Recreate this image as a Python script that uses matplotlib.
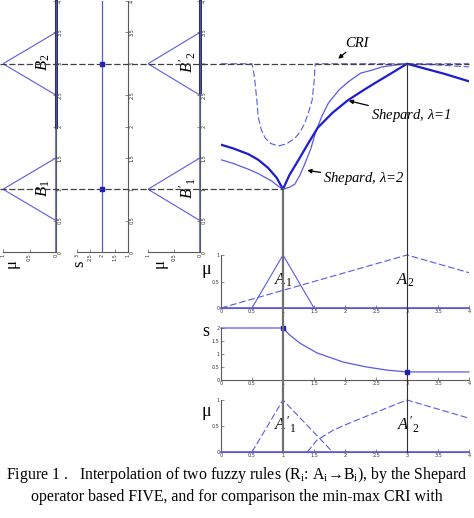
import matplotlib
matplotlib.use("Agg")
import matplotlib.pyplot as plt
import matplotlib.transforms as mtransforms
import numpy as np

plt.rcParams['font.family'] = ['Liberation Serif', 'DejaVu Serif']
plt.rcParams['mathtext.fontset'] = 'custom'
plt.rcParams['mathtext.rm'] = 'Liberation Serif'
plt.rcParams['mathtext.it'] = 'Liberation Serif:italic'
plt.rcParams['mathtext.bf'] = 'Liberation Serif:bold'

# ---------------- data ----------------
# rule consequents (left panels), y-axis values vs membership
b1_y = [0.5, 1.0, 1.5]
b1_mu = [0, 1, 0]
b2_y = [2.5, 3.0, 3.5]
b2_mu = [0, 1, 0]
b1p_y = [0.5, 1.0, 1.5]
b1p_mu = [0, 1, 0]
b2p_y = [2.5, 3.0, 3.5]
b2p_mu = [0, 1, 0]
s_left_y = [0, 4]
s_left_val = [2, 2]
s_left_pts_y = [1, 3]
s_left_pts_val = [2, 2]

# main interpolation curves
shep1_x = [0, 0.2, 0.44, 0.6, 0.76, 0.9, 1.0, 1.1, 1.24, 1.4, 1.56, 1.8, 2.05, 2.3, 2.48, 2.7, 2.85, 3.0, 3.3, 3.6, 4.0]
shep1_y = [1.71, 1.65, 1.56, 1.47, 1.34, 1.18, 1.0, 1.22, 1.45, 1.72, 1.98, 2.22, 2.42, 2.58, 2.69, 2.82, 2.91, 3.0, 2.92, 2.84, 2.72]
shep2_x = [0, 0.2, 0.44, 0.6, 0.82, 0.92, 1.0, 1.1, 1.19, 1.27, 1.35, 1.45, 1.52, 1.62, 1.73, 1.9, 2.05, 2.25, 2.44, 2.6, 2.81, 3.0]
shep2_y = [1.47, 1.41, 1.32, 1.25, 1.13, 1.05, 1.0, 1.03, 1.08, 1.22, 1.40, 1.65, 1.89, 2.15, 2.37, 2.58, 2.71, 2.85, 2.90, 2.95, 2.98, 3.0]
shep2b_x = [3.0, 3.5, 4.0]
shep2b_y = [3.0, 2.98, 2.95]
cri_x = [0, 0.5, 0.53, 0.55, 0.58, 0.60, 0.65, 0.71, 0.8, 0.92, 1.05, 1.19, 1.28, 1.35, 1.42, 1.47, 1.5, 1.52, 4.0]
cri_y = [3.0, 3.0, 2.85, 2.69, 2.4, 2.15, 1.95, 1.82, 1.73, 1.69, 1.72, 1.81, 1.92, 2.05, 2.25, 2.42, 2.7, 3.0, 3.0]

# antecedents
a1_x = [0.5, 1.0, 1.5]
a1_mu = [0, 1, 0]
a2_x = [0, 3.0, 4.0]
a2_mu = [0, 1, 0.667]
# s function
s_x = [0, 1.0, 1.1, 1.27, 1.55, 1.97, 2.35, 2.68, 3.0, 4.0]
s_y = [2.0, 2.0, 1.75, 1.42, 1.04, 0.69, 0.5, 0.38, 0.31, 0.31]
s_pts_x = [1.0, 3.0]
s_pts_y = [2.0, 0.31]
# observation-modified antecedents
a1p_x = [0.5, 1.0, 1.8]
a1p_mu = [0, 1, 0]
a2p_x = [1.39, 1.55, 1.81, 2.08, 2.35, 2.68, 3.0, 4.0]
a2p_mu = [0, 0.23, 0.42, 0.56, 0.69, 0.85, 1.0, 0.65]

rule_points = [1.0, 3.0]

ytick_vals = [0, 0.5, 1, 1.5, 2, 2.5, 3, 3.5, 4]
ytick_labs = ['0', '0.5', '1', '1.5', '2', '2.5', '3', '3.5', '4']
mu_ticks = [1, 0.5, 0]
mu_labs = ['1', '0.5', '0']
s_ticks = [3, 2.5, 2, 1.5, 1]
s_labs = ['3', '2.5', '2', '1.5', '1']
x_ticks = [0, 0.5, 1, 1.5, 2, 2.5, 3, 3.5, 4]
x_labs = ['0', '0.5', '1', '1.5', '2', '2.5', '3', '3.5', '4']

caption1 = "Figure 1 .   Interpolation of two fuzzy rules (R$_{\\rm i}$: A$_{\\rm i}$\u2192B$_{\\rm i}$), by the Shepard"
caption2 = "operator based FIVE, and for comparison the min-max CRI with"

# ---------------- style ----------------
W, H = 474, 518
THIN = '#5a5ae6'
THICK = '#1c1cd2'
NAVY = '#2c2c8c'
GRAY = '#5a5a5a'
DASH = (0, (6, 2.5))

fig = plt.figure(figsize=(W / 100, H / 100), dpi=100)


def box(x0, y0, x1, y1):
    return [x0 / W, 1 - y1 / H, (x1 - x0) / W, (y1 - y0) / H]


def style_left(ax, xt, xl):
    for s in ['top', 'left']:
        ax.spines[s].set_visible(False)
    for s in ['right', 'bottom']:
        ax.spines[s].set_color(GRAY)
        ax.spines[s].set_linewidth(0.8)
    ax.yaxis.tick_right()
    ax.set_yticks(ytick_vals)
    ax.set_yticklabels(ytick_labs, rotation=90, va='center', fontsize=3.5,
                       family='DejaVu Sans')
    ax.set_xticks(xt)
    ax.set_xticklabels(xl, rotation=90, fontsize=3.5, family='DejaVu Sans')
    ax.tick_params(direction='in', length=2, width=0.5, pad=1, colors=GRAY,
                   labelcolor='#333333')
    ax.set_ylim(0, 4)
    ax.patch.set_alpha(0)


# left panels
axB = fig.add_axes(box(3, 1, 56, 252))
axB.plot(b1_mu, b1_y, color=THIN, lw=0.8)
axB.plot(b2_mu, b2_y, color=THIN, lw=0.8)
axB.plot([0, 0], [0, 2.0], color=THIN, lw=1.2, clip_on=False)
axB.plot([0, 0], [2.0, 4], color=NAVY, lw=2.2, clip_on=False)
axB.set_xlim(1, 0)
style_left(axB, mu_ticks, mu_labs)
axB.text(0.24, 3.02, r"$B_{\rm 2}$", rotation=90, fontsize=12, ha='center', va='center')
axB.text(0.24, 1.02, r"$B_{\rm 1}$", rotation=90, fontsize=12, ha='center', va='center')

axS = fig.add_axes(box(77, 1, 128, 252))
axS.plot(s_left_val, s_left_y, color=THIN, lw=0.9)
axS.plot(s_left_pts_val, s_left_pts_y, 's', color=THICK, ms=2.2, lw=0)
axS.set_xlim(3, 1)
style_left(axS, s_ticks, s_labs)

axBp = fig.add_axes(box(148, 1, 200, 252))
axBp.plot(b1p_mu, b1p_y, color=THIN, lw=0.8)
axBp.plot(b2p_mu, b2p_y, color=THIN, lw=0.8)
axBp.plot([0, 0], [0, 2.55], color=THIN, lw=1.2, clip_on=False)
axBp.plot([0, 0], [2.55, 4], color=NAVY, lw=2.2, clip_on=False)
axBp.set_xlim(1, 0)
style_left(axBp, mu_ticks, mu_labs)
axBp.text(0.24, 3.02, r"$B'_{\rm 2}$", rotation=90, fontsize=12, ha='center', va='center')
axBp.text(0.24, 1.02, r"$B'_{\rm 1}$", rotation=90, fontsize=12, ha='center', va='center')

for xpx, lab in [(12, "\u03bc"), (79, "s"), (160, "\u03bc")]:
    fig.text(xpx / W, 1 - 264 / H, lab, rotation=90, fontsize=12,
             ha='center', va='center')

# lower panels


def style_low(ax, yt, yl):
    for s in ['top', 'right']:
        ax.spines[s].set_visible(False)
    for s in ['left', 'bottom']:
        ax.spines[s].set_color(GRAY)
        ax.spines[s].set_linewidth(0.8)
    ax.set_xlim(0, 4)
    ax.set_xticks(x_ticks)
    ax.set_xticklabels(x_labs, fontsize=3.5, family='DejaVu Sans')
    ax.set_yticks(yt)
    ax.set_yticklabels(yl, fontsize=3.5, family='DejaVu Sans')
    ax.tick_params(direction='in', length=2, width=0.5, pad=1, colors=GRAY,
                   labelcolor='#333333')
    ax.patch.set_alpha(0)


axA = fig.add_axes(box(221, 255, 469, 308))
axA.plot(a1_x, a1_mu, color=THIN, lw=0.8, clip_on=False)
axA.plot(a2_x, a2_mu, color=THIN, lw=0.8, ls=DASH, clip_on=False)
axA.plot([0, 4], [0, 0], color=THIN, lw=1.2, clip_on=False, zorder=5)
axA.set_ylim(0, 1)
style_low(axA, [0, 0.5, 1], ['0', '0.5', '1'])
axA.text(0.85, 0.52, r"$A_{\rm 1}$", fontsize=12, ha='left', va='center')
axA.text(2.97, 0.52, r"$A_{\rm 2}$", fontsize=12, ha='center', va='center')

axSs = fig.add_axes(box(221, 328, 469, 380))
axSs.plot(s_x, s_y, color=THIN, lw=0.9, clip_on=False)
axSs.plot(s_pts_x, s_pts_y, 's', color=THICK, ms=2.2, clip_on=False)
axSs.set_ylim(0, 2)
style_low(axSs, [0, 0.5, 1, 1.5, 2], ['0', '0.5', '1', '1.5', '2'])

axAp = fig.add_axes(box(221, 400, 469, 452))
axAp.plot(a1p_x, a1p_mu, color=THIN, lw=0.8, ls=DASH, clip_on=False)
axAp.plot(a2p_x, a2p_mu, color=THIN, lw=0.8, ls=DASH, clip_on=False)
axAp.plot([0, 4], [0, 0], color=THIN, lw=1.2, clip_on=False, zorder=5)
axAp.set_ylim(0, 1)
style_low(axAp, [0, 0.5, 1], ['0', '0.5', '1'])
axAp.text(0.85, 0.52, r"$A'_{\rm 1}$", fontsize=12, ha='left', va='center')
axAp.text(3.02, 0.52, r"$A'_{\rm 2}$", fontsize=12, ha='center', va='center')

for ypx, lab in [(270, "\u03bc"), (331, "s"), (411, "\u03bc")]:
    fig.text(206 / W, 1 - ypx / H, lab, fontsize=13, ha='center', va='center')

# main interpolation panel
ax = fig.add_axes(box(221, 1, 469, 252))
ax.set_xlim(0, 4)
ax.set_ylim(0, 4)
ax.axis('off')
ax.patch.set_alpha(0)

ax.plot(cri_x, cri_y, color=THIN, lw=0.8, ls=DASH)
ax.plot(shep2_x, shep2_y, color=THIN, lw=0.9)
ax.plot(shep2b_x, shep2b_y, color=THIN, lw=0.8, ls=DASH)
ax.plot(shep1_x, shep1_y, color=THICK, lw=1.6)

# connecting lines: horizontal dashed lines at the rule outputs
blend = mtransforms.blended_transform_factory(fig.transFigure, ax.transData)
x_fig_r1 = fig.transFigure.inverted().transform(ax.transData.transform((rule_points[0], 0)))[0]
x_fig_r2 = fig.transFigure.inverted().transform(ax.transData.transform((4, 0)))[0]
fig.add_artist(plt.Line2D([0, x_fig_r1], [b1_y[1], b1_y[1]], transform=blend,
                          color='#404040', lw=0.9, ls=(0, (5, 2)), zorder=6))
fig.add_artist(plt.Line2D([0, x_fig_r2], [b2_y[1], b2_y[1]], transform=blend,
                          color='#404040', lw=0.9, ls=(0, (5, 2)), zorder=6))

# vertical lines from the rule points down through the lower panels
y_bottom = ax.transData.inverted().transform(axAp.transData.transform((0, 0)))[1]
ax.plot([rule_points[0], rule_points[0]], [b1_y[1], y_bottom], color='#707070',
        lw=1.6, clip_on=False, zorder=6)
ax.plot([rule_points[1], rule_points[1]], [b2_y[1], y_bottom], color='#303030',
        lw=0.8, clip_on=False, zorder=6)

arrow = dict(arrowstyle='-|>', color='black', lw=0.9, mutation_scale=6,
             shrinkA=0, shrinkB=0)
ax.annotate("CRI", xy=(1.89, 3.08), xytext=(2.0, 3.33), fontsize=10.5,
            style='italic', ha='left', va='center', arrowprops=arrow)
ax.annotate(r"Shepard, $\lambda$=1", xy=(2.06, 2.41), xytext=(2.42, 2.17),
            fontsize=10.5, style='italic', ha='left', va='center', arrowprops=arrow)
ax.annotate(r"Shepard, $\lambda$=2", xy=(1.39, 1.30), xytext=(1.65, 1.17),
            fontsize=10.5, style='italic', ha='left', va='center', arrowprops=arrow)

# caption
fig.text(0.5, 1 - 475 / H, caption1, fontsize=11.4, ha='center', va='center')
fig.text(0.5, 1 - 497 / H, caption2, fontsize=11.4, ha='center', va='center')

fig.savefig("out.png", dpi=100)
